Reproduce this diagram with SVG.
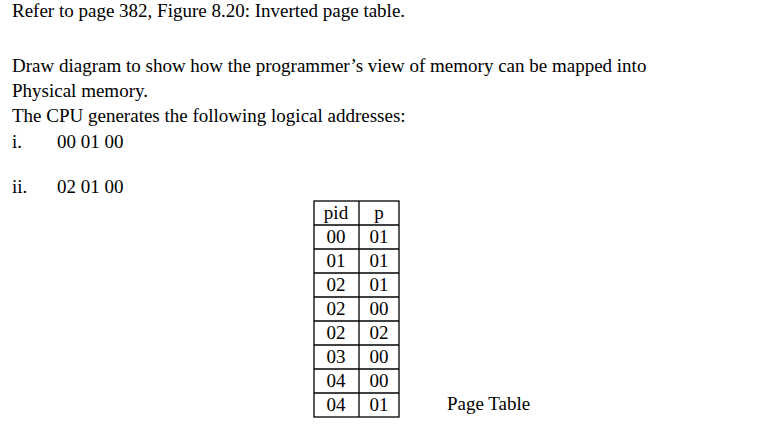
<svg xmlns="http://www.w3.org/2000/svg" width="764" height="442" viewBox="0 0 764 442">
<style>
text{font-family:"Liberation Serif",serif;font-size:19px;fill:#000}
.c{text-anchor:middle}
line{stroke:#000;stroke-width:1.3}
</style>
<rect width="764" height="442" fill="#fff"/>
<text x="12" y="17">Refer to page 382, Figure 8.20: Inverted page table.</text>
<text x="12" y="72">Draw diagram to show how the programmer’s view of memory can be mapped into</text>
<text x="12" y="97">Physical memory.</text>
<text x="12" y="122">The CPU generates the following logical addresses:</text>
<text x="12" y="148">i.</text><text x="57" y="148">00 01 00</text>
<text x="12" y="193">ii.</text><text x="57" y="193">02 01 00</text>
<g id="page-table">
<rect x="314" y="201" width="85" height="216" fill="none" stroke="#000" stroke-width="1.3"/>
<line x1="359" y1="201" x2="359" y2="417"/>
<line x1="314" y1="225" x2="399" y2="225"/><line x1="314" y1="249" x2="399" y2="249"/>
<line x1="314" y1="273" x2="399" y2="273"/><line x1="314" y1="297" x2="399" y2="297"/>
<line x1="314" y1="321" x2="399" y2="321"/><line x1="314" y1="345" x2="399" y2="345"/>
<line x1="314" y1="369" x2="399" y2="369"/><line x1="314" y1="393" x2="399" y2="393"/>
<text class="c" x="336" y="219">pid</text><text class="c" x="379" y="219">p</text>
<text class="c" x="336" y="243">00</text><text class="c" x="379" y="243">01</text>
<text class="c" x="336" y="267">01</text><text class="c" x="379" y="267">01</text>
<text class="c" x="336" y="291">02</text><text class="c" x="379" y="291">01</text>
<text class="c" x="336" y="315">02</text><text class="c" x="379" y="315">00</text>
<text class="c" x="336" y="339">02</text><text class="c" x="379" y="339">02</text>
<text class="c" x="336" y="363">03</text><text class="c" x="379" y="363">00</text>
<text class="c" x="336" y="387">04</text><text class="c" x="379" y="387">00</text>
<text class="c" x="336" y="411">04</text><text class="c" x="379" y="411">01</text>
</g>
<text x="447" y="410">Page  Table</text>
</svg>
